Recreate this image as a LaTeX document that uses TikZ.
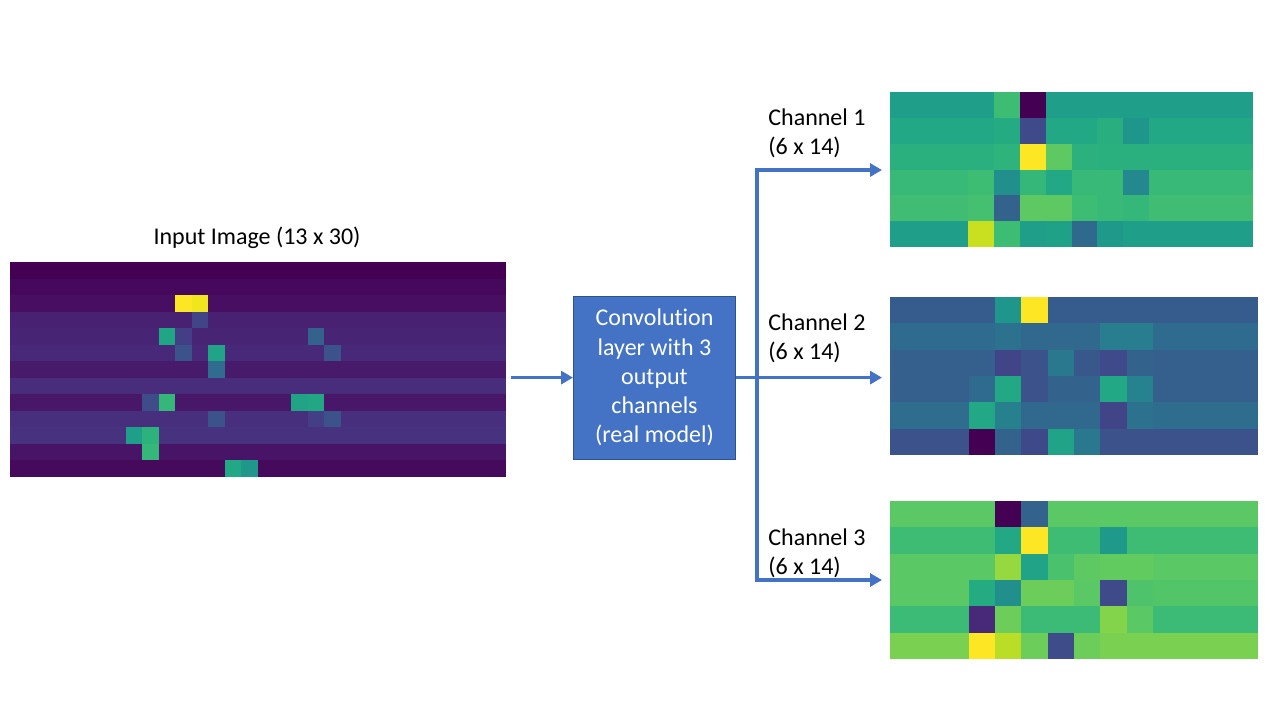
\documentclass[tikz,border=0pt]{standalone}
\usepackage{fontspec}
\setmainfont{Carlito}[Ligatures={NoCommon}]
\usetikzlibrary{arrows.meta}
\definecolor{flowblue}{HTML}{4472C4}
\definecolor{boxedge}{HTML}{2F528F}
% #1 x0, #2 y0, #3 total width, #4 cell height, #5 list row/hex
\newcommand{\hmrows}[5]{%
  \foreach \r/\h in {#5} {\definecolor{tmpc}{HTML}{\h}\fill[tmpc] (#1,{#2+\r*#4}) rectangle ++(#3,#4);}}
% #1 x0, #2 y0, #3 cell width, #4 cell height, #5 list row/col/hex
\newcommand{\hmcells}[5]{%
  \foreach \r/\c/\h in {#5} {\definecolor{tmpc}{HTML}{\h}\fill[tmpc] ({#1+\c*#3},{#2+\r*#4}) rectangle ++(#3,#4);}}
\begin{document}
\begin{tikzpicture}[x=0.5pt,y=-0.5pt,
  flow/.style={draw=flowblue, line width=1.6pt},
  arr/.style={flow, -{Triangle[length=6pt,width=6.5pt]}},
  convbox/.style={draw=boxedge, line width=0.5pt, fill=flowblue, text=white, align=center, inner sep=0pt, minimum width=81pt, minimum height=81.5pt, font=\fontsize{12}{14.6}\selectfont},
  lbl/.style={align=left, inner sep=0pt, anchor=west, font=\fontsize{12}{14.6}\selectfont},
  hm/.style={inner sep=0pt, outer sep=0pt, draw=none, anchor=north west}]

\useasboundingbox (0,0) rectangle (1280,720);
\fill[white] (0,0) rectangle (1280,720);

% ---------- input image 13 x 30 ----------
\node[hm, minimum width=248pt, minimum height=107.5pt] (inimg) at (10,262) {};
\hmrows{10}{262}{496}{16.538}{0/440154,1/46085c,2/470e61,3/482173,4/482475,5/482878,6/481a6c,7/472d7b,8/481769,9/472f7d,10/46327e,11/481467,12/450a5c}
\hmcells{10}{262}{16.5333}{16.538}{2/10/fde725,2/11/f1e51d,3/11/414487,4/9/21a685,4/10/433e85,5/10/3b528b,5/12/20a386,6/12/2f6c8e,8/8/3e4d8a,8/9/35b779,9/12/3b528b,10/7/1f9e89,10/8/2db27d,11/8/35b779,12/13/22a884,12/14/1f988b,4/18/33638d,5/19/3b528b,8/17/21a386,8/18/22a785,9/18/433e85,9/19/3b528b}
\node[inner sep=0pt, font=\fontsize{12}{14.6}\selectfont] (intitle) at (257,238) {Input Image (13 x 30)};

% ---------- channel 1 ----------
\node[hm, minimum width=181.5pt, minimum height=77.5pt] (ch1) at (890,92) {};
\hmrows{890}{92}{363}{25.833}{0/1f9e89,1/22a884,2/2ab07f,3/38b977,4/40bd72,5/1f9e89}
\hmcells{890}{92}{25.929}{25.833}{0/4/3dbc74,0/5/440154,1/4/25ab82,1/5/3e4a89,1/8/29af7f,1/9/1f968b,2/4/2eb37c,2/5/fde725,2/6/5ec962,2/7/2cb17e,3/3/3dbc74,3/4/21908d,3/5/35b779,3/6/22a884,3/9/23898e,4/3/45bf70,4/4/33638d,4/5/5ec962,4/6/5ec962,4/7/3dbc74,4/8/38b977,4/9/35b779,5/3/c8e020,5/4/3dbc74,5/6/1fa187,5/7/30698e,5/8/1f9a8a}

% ---------- channel 2 ----------
\node[hm, minimum width=184pt, minimum height=79pt] (ch2) at (890,297) {};
\hmrows{890}{297}{368}{26.333}{0/365c8d,1/2f6b8e,2/355f8d,3/355f8d,4/2e6d8e,5/3b528b}
\hmcells{890}{297}{26.286}{26.333}{0/4/1f968b,0/5/fde725,1/4/2c728e,1/5/31688e,1/6/31688e,1/7/31688e,1/8/287d8e,1/9/287d8e,2/4/414487,2/5/3b528b,2/6/2a788e,2/7/38588c,2/8/3e4a89,2/9/33638d,3/3/2f6b8e,3/4/22a884,3/5/3b528b,3/6/33638d,3/7/33638d,3/8/22a884,3/9/26828e,4/3/22a884,4/4/27808e,4/5/31688e,4/6/31688e,4/7/31688e,4/8/414487,4/9/2c728e,5/3/440154,5/4/33638d,5/5/3e4989,5/6/20a386,5/7/2a788e}

% ---------- channel 3 ----------
\node[hm, minimum width=184pt, minimum height=79pt] (ch3) at (890,501) {};
\hmrows{890}{501}{368}{26.333}{0/5ac864,1/3fbc73,2/5ac864,3/52c569,4/3bbb75,5/7ad151}
\hmcells{890}{501}{26.286}{26.333}{0/4/440154,0/5/33638d,1/4/22a884,1/5/fde725,1/8/1f9a8a,2/4/95d840,2/5/20a386,2/6/4ac16d,2/7/5ec962,2/8/62cb5f,2/9/62cb5f,3/0/5ac864,3/1/5ac864,3/2/5ac864,3/3/25ab82,3/4/21908d,3/5/6ccd5a,3/6/6ccd5a,3/7/5ac864,3/8/3e4a89,3/9/4ec36b,4/3/482878,4/4/6ccd5a,4/8/84d44b,4/9/5ac864,5/3/fde725,5/4/bade28,5/5/6ccd5a,5/6/3e4c8a,5/7/6ccd5a}

% ---------- convolution box ----------
\node[convbox] (conv) at (654.5,377.6) {Convolution\\layer with 3\\output\\channels\\(real model)};

% ---------- labels ----------
\node[lbl] (l1) at (768,133.5) {Channel 1\\(6 x 14)};
\node[lbl] (l2) at (768,338.5) {Channel 2\\(6 x 14)};
\node[lbl] (l3) at (768,553.5) {Channel 3\\(6 x 14)};

% ---------- connectors ----------
\coordinate (br) at (757,377.6);
\coordinate (btop) at (757,170);
\coordinate (bbot) at (757,580);
\draw[arr, shorten <=2.5pt] (inimg.east |- conv.west) -- (conv.west);
\draw[arr, shorten >=4pt] (conv.east) -- (ch2.west |- conv.east);
\draw[arr, shorten >=4pt] (br) -- (btop) -- (ch1.west |- btop);
\draw[arr, shorten >=4pt] (br) -- (bbot) -- (ch3.west |- bbot);
\end{tikzpicture}
\end{document}
